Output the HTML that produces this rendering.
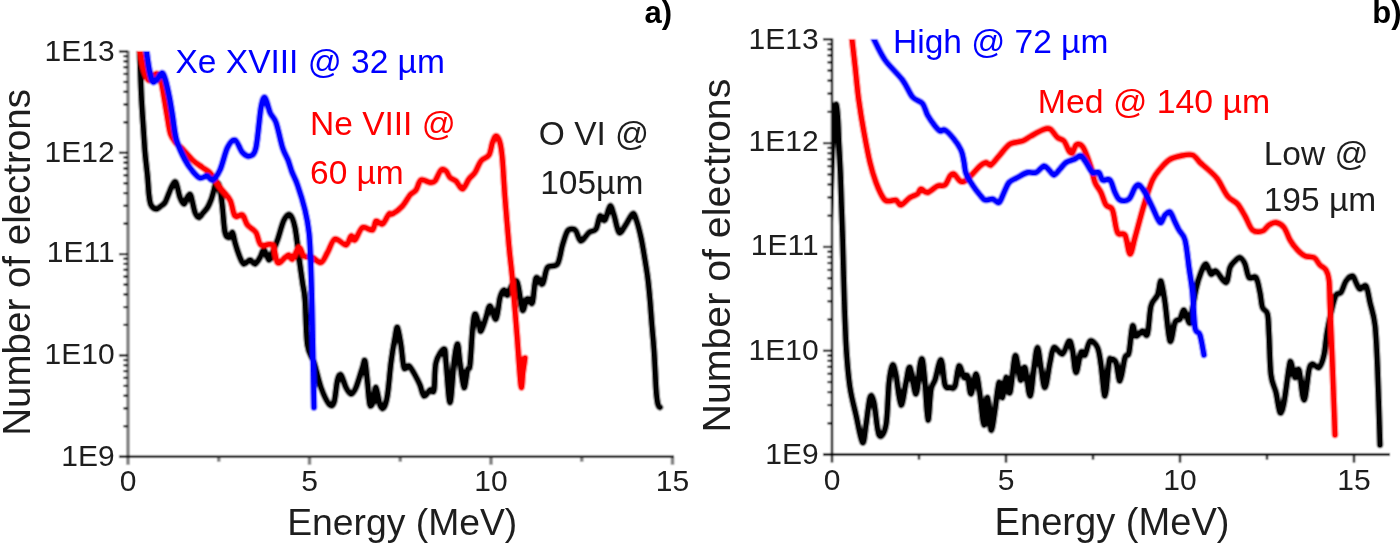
<!DOCTYPE html>
<html><head><meta charset="utf-8"><title>Electron spectra</title>
<style>
html,body{margin:0;padding:0;background:#fff;}
body{width:1400px;height:545px;overflow:hidden;}
svg{display:block;font-family:"Liberation Sans",sans-serif;fill:#1e1e1e;}
</style></head><body>
<svg width="1400" height="545" viewBox="0 0 1400 545">
<defs><filter id="soft" x="0" y="0" width="1400" height="545" filterUnits="userSpaceOnUse"><feConvolveMatrix order="3" kernelMatrix="1 2 1 2 4 2 1 2 1" divisor="16" edgeMode="duplicate" preserveAlpha="true"/></filter><clipPath id="cl"><rect x="129" y="51" width="560" height="404"/></clipPath><clipPath id="cr"><rect x="833" y="39" width="567" height="414"/></clipPath></defs>
<g filter="url(#soft)"><rect width="1400" height="545" fill="#fff"/><g stroke="#858585" stroke-width="3.6" fill="none"><line x1="128" y1="50.7" x2="128" y2="464.7" /><line x1="218.75" y1="456.7" x2="218.75" y2="461.7" /><line x1="309.5" y1="456.7" x2="309.5" y2="464.7" /><line x1="400.25" y1="456.7" x2="400.25" y2="461.7" /><line x1="491" y1="456.7" x2="491" y2="464.7" /><line x1="581.75" y1="456.7" x2="581.75" y2="461.7" /><line x1="672.5" y1="456.7" x2="672.5" y2="464.7" /></g><g stroke="#000" stroke-width="2.2" fill="none"><line x1="119" y1="456.7" x2="674" y2="456.7" stroke-width="2.5"/><line x1="123.5" y1="426.21" x2="128" y2="426.21" /><line x1="123.5" y1="408.37" x2="128" y2="408.37" /><line x1="123.5" y1="395.71" x2="128" y2="395.71" /><line x1="123.5" y1="385.89" x2="128" y2="385.89" /><line x1="123.5" y1="377.87" x2="128" y2="377.87" /><line x1="123.5" y1="371.09" x2="128" y2="371.09" /><line x1="123.5" y1="365.22" x2="128" y2="365.22" /><line x1="123.5" y1="360.04" x2="128" y2="360.04" /><line x1="119" y1="355.4" x2="128" y2="355.4" /><line x1="123.5" y1="324.91" x2="128" y2="324.91" /><line x1="123.5" y1="307.07" x2="128" y2="307.07" /><line x1="123.5" y1="294.41" x2="128" y2="294.41" /><line x1="123.5" y1="284.59" x2="128" y2="284.59" /><line x1="123.5" y1="276.57" x2="128" y2="276.57" /><line x1="123.5" y1="269.79" x2="128" y2="269.79" /><line x1="123.5" y1="263.92" x2="128" y2="263.92" /><line x1="123.5" y1="258.74" x2="128" y2="258.74" /><line x1="119" y1="254.1" x2="128" y2="254.1" /><line x1="123.5" y1="223.61" x2="128" y2="223.61" /><line x1="123.5" y1="205.77" x2="128" y2="205.77" /><line x1="123.5" y1="193.11" x2="128" y2="193.11" /><line x1="123.5" y1="183.29" x2="128" y2="183.29" /><line x1="123.5" y1="175.27" x2="128" y2="175.27" /><line x1="123.5" y1="168.49" x2="128" y2="168.49" /><line x1="123.5" y1="162.62" x2="128" y2="162.62" /><line x1="123.5" y1="157.44" x2="128" y2="157.44" /><line x1="119" y1="152.8" x2="128" y2="152.8" /><line x1="123.5" y1="122.31" x2="128" y2="122.31" /><line x1="123.5" y1="104.47" x2="128" y2="104.47" /><line x1="123.5" y1="91.81" x2="128" y2="91.81" /><line x1="123.5" y1="81.99" x2="128" y2="81.99" /><line x1="123.5" y1="73.97" x2="128" y2="73.97" /><line x1="123.5" y1="67.19" x2="128" y2="67.19" /><line x1="123.5" y1="61.32" x2="128" y2="61.32" /><line x1="123.5" y1="56.14" x2="128" y2="56.14" /><line x1="119" y1="51.5" x2="128" y2="51.5" /></g><g stroke="#111" stroke-width="2.5" fill="none"><line x1="832" y1="38.5" x2="832" y2="462.6" /><line x1="919" y1="454.6" x2="919" y2="459.6" /><line x1="1006" y1="454.6" x2="1006" y2="462.6" /><line x1="1093" y1="454.6" x2="1093" y2="459.6" /><line x1="1180" y1="454.6" x2="1180" y2="462.6" /><line x1="1267" y1="454.6" x2="1267" y2="459.6" /><line x1="1354" y1="454.6" x2="1354" y2="462.6" /></g><g stroke="#000" stroke-width="2.2" fill="none"><line x1="823" y1="454.6" x2="1390" y2="454.6" stroke-width="2.5"/><line x1="827.5" y1="423.35" x2="832" y2="423.35" /><line x1="827.5" y1="405.06" x2="832" y2="405.06" /><line x1="827.5" y1="392.09" x2="832" y2="392.09" /><line x1="827.5" y1="382.03" x2="832" y2="382.03" /><line x1="827.5" y1="373.81" x2="832" y2="373.81" /><line x1="827.5" y1="366.86" x2="832" y2="366.86" /><line x1="827.5" y1="360.84" x2="832" y2="360.84" /><line x1="827.5" y1="355.53" x2="832" y2="355.53" /><line x1="823" y1="350.775" x2="832" y2="350.775" /><line x1="827.5" y1="319.52" x2="832" y2="319.52" /><line x1="827.5" y1="301.24" x2="832" y2="301.24" /><line x1="827.5" y1="288.27" x2="832" y2="288.27" /><line x1="827.5" y1="278.20" x2="832" y2="278.20" /><line x1="827.5" y1="269.98" x2="832" y2="269.98" /><line x1="827.5" y1="263.03" x2="832" y2="263.03" /><line x1="827.5" y1="257.01" x2="832" y2="257.01" /><line x1="827.5" y1="251.70" x2="832" y2="251.70" /><line x1="823" y1="246.95" x2="832" y2="246.95" /><line x1="827.5" y1="215.70" x2="832" y2="215.70" /><line x1="827.5" y1="197.41" x2="832" y2="197.41" /><line x1="827.5" y1="184.44" x2="832" y2="184.44" /><line x1="827.5" y1="174.38" x2="832" y2="174.38" /><line x1="827.5" y1="166.16" x2="832" y2="166.16" /><line x1="827.5" y1="159.21" x2="832" y2="159.21" /><line x1="827.5" y1="153.19" x2="832" y2="153.19" /><line x1="827.5" y1="147.88" x2="832" y2="147.88" /><line x1="823" y1="143.125" x2="832" y2="143.125" /><line x1="827.5" y1="111.87" x2="832" y2="111.87" /><line x1="827.5" y1="93.59" x2="832" y2="93.59" /><line x1="827.5" y1="80.62" x2="832" y2="80.62" /><line x1="827.5" y1="70.55" x2="832" y2="70.55" /><line x1="827.5" y1="62.33" x2="832" y2="62.33" /><line x1="827.5" y1="55.38" x2="832" y2="55.38" /><line x1="827.5" y1="49.36" x2="832" y2="49.36" /><line x1="827.5" y1="44.05" x2="832" y2="44.05" /><line x1="823" y1="39.3" x2="832" y2="39.3" /></g><path d="M139.6,45C139.7,49.2 140.1,60.8 140.4,70C140.7,79.2 141.1,90.8 141.6,100C142.1,109.2 142.6,116.3 143.2,125C143.8,133.7 144.3,143.5 145,152C145.7,160.5 146.8,168.8 147.5,176C148.2,183.2 148.4,190.2 149,195C149.6,199.8 149.8,202.7 151,205C152.2,207.3 154.3,208.8 156,209C157.7,209.2 159.5,207.1 161,206C162.5,204.9 163.7,204.7 165,202.5C166.3,200.3 167.8,195.9 169,193C170.2,190.1 171.3,186.8 172.5,185C173.7,183.2 174.8,180.4 176,182.5C177.2,184.6 178.7,193.9 180,197.5C181.3,201.1 182.8,203.9 184,204C185.2,204.1 186.2,199.5 187,198C187.8,196.5 188.3,195.3 189,195C189.7,194.7 190.0,193.1 191,196C192.0,198.9 193.7,208.9 195,212.5C196.3,216.1 197.7,217.4 199,217.5C200.3,217.6 201.6,214.7 203,213C204.4,211.3 206.2,209.7 207.5,207.5C208.8,205.3 209.9,202.9 211,200C212.1,197.1 213.2,192.9 214,190C214.8,187.1 215.2,183.3 216,182.5C216.8,181.7 218.2,182.9 219,185C219.8,187.1 220.4,191.2 221,195C221.6,198.8 221.8,201.2 222.5,207.5C223.2,213.8 223.9,227.5 225,232.5C226.1,237.5 227.8,237.5 229,237.5C230.2,237.5 231.5,231.7 232.5,232.5C233.5,233.3 233.8,238.3 235,242.5C236.2,246.7 238.5,253.9 240,257.5C241.5,261.1 242.3,263.6 244,264C245.7,264.4 248.2,260.0 250,260C251.8,260.0 253.3,264.4 255,264C256.7,263.6 258.5,259.8 260,257.5C261.5,255.2 262.5,249.6 264,250C265.5,250.4 267.6,259.6 269,260C270.4,260.4 271.1,255.8 272.5,252.5C273.9,249.2 275.6,245.4 277.5,240C279.4,234.6 281.9,224.2 284,220C286.1,215.8 288.2,213.8 290,215C291.8,216.2 293.5,220.4 295,227.5C296.5,234.6 297.8,248.3 299,257.5C300.2,266.7 301.5,275.4 302.5,282.5C303.5,289.6 304.2,289.6 305,300C305.8,310.4 306.0,334.6 307.5,345C309.0,355.4 311.8,355.4 314,362.5C316.2,369.6 318.5,380.6 321,387.5C323.5,394.4 326.8,401.5 329,404C331.2,406.5 332.6,406.5 334,402.5C335.4,398.5 336.3,384.6 337.5,380C338.7,375.4 339.6,373.8 341,375C342.4,376.2 344.3,384.3 346,387.5C347.7,390.7 349.3,394.0 351,394C352.7,394.0 354.1,391.9 356,387.5C357.9,383.1 361.0,371.9 362.5,367.5C364.0,363.1 364.2,358.5 365,361C365.8,363.5 366.7,375.2 367.5,382.5C368.3,389.8 368.9,402.1 370,405C371.1,407.9 373.0,402.9 374,400C375.0,397.1 375.0,386.7 376,387.5C377.0,388.3 378.7,401.7 380,405C381.3,408.3 382.8,409.2 384,407.5C385.2,405.8 386.3,402.5 387.5,395C388.7,387.5 389.8,372.1 391,362.5C392.2,352.9 393.9,343.3 395,337.5C396.1,331.7 396.5,326.2 397.5,327.5C398.5,328.8 399.9,338.3 401,345C402.1,351.7 402.7,364.0 404,367.5C405.3,371.0 407.2,364.8 409,366C410.8,367.2 413.2,371.8 415,375C416.8,378.2 418.5,381.5 420,385C421.5,388.5 422.3,395.2 424,396C425.7,396.8 428.3,391.0 430,390C431.7,389.0 433.0,394.6 434,390C435.0,385.4 434.3,369.3 436,362.5C437.7,355.7 442.3,349.0 444,349C445.7,349.0 445.0,353.6 446,362.5C447.0,371.4 448.7,402.5 450,402.5C451.3,402.5 452.8,372.2 454,362.5C455.2,352.8 456.5,344.0 457.5,344C458.5,344.0 458.9,355.2 460,362.5C461.1,369.8 462.8,386.2 464,387.5C465.2,388.8 466.5,373.8 467.5,370C468.5,366.2 469.2,371.7 470,365C470.8,358.3 471.7,338.5 472.5,330C473.3,321.5 473.9,314.8 475,314C476.1,313.2 478.0,322.2 479,325C480.0,327.8 479.8,332.2 481,331C482.2,329.8 484.5,321.7 486,317.5C487.5,313.3 488.3,305.8 490,306C491.7,306.2 494.3,320.4 496,319C497.7,317.6 498.7,302.3 500,297.5C501.3,292.7 502.8,290.4 504,290C505.2,289.6 506.1,296.0 507.5,295C508.9,294.0 510.8,286.0 512.5,284C514.2,282.0 515.8,278.7 517.5,283C519.2,287.3 521.1,307.2 522.5,310C523.9,312.8 524.9,301.8 526,300C527.1,298.2 527.9,298.6 529,299C530.1,299.4 531.3,306.0 532.5,302.5C533.7,299.0 534.3,281.1 536,278C537.7,274.9 540.6,285.8 542.5,284C544.4,282.2 545.0,270.8 547.5,267.5C550.0,264.2 555.0,267.8 557.5,264C560.0,260.2 560.8,250.5 562.5,245C564.2,239.5 565.8,233.7 567.5,231C569.2,228.3 571.1,229.0 572.5,229C573.9,229.0 574.6,229.0 576,231C577.4,233.0 578.8,240.8 581,241C583.2,241.2 586.5,234.5 589,232.5C591.5,230.5 594.2,231.8 596,229C597.8,226.2 598.5,217.5 600,216C601.5,214.5 603.3,221.7 605,220C606.7,218.3 608.5,206.8 610,206C611.5,205.2 612.5,210.6 614,215C615.5,219.4 617.2,230.7 619,232.5C620.8,234.3 622.8,229.1 625,226C627.2,222.9 630.7,215.2 632.5,214C634.3,212.8 634.6,215.1 636,219C637.4,222.9 639.5,230.7 641,237.5C642.5,244.3 643.8,252.9 645,260C646.2,267.1 647.2,273.3 648,280C648.8,286.7 649.3,292.3 650,300C650.7,307.7 651.3,317.7 652,326C652.7,334.3 653.3,339.7 654,350C654.7,360.3 655.5,379.5 656,388C656.5,396.5 656.9,398.0 657.3,401C657.7,404.0 658.1,404.9 658.6,406C659.1,407.1 659.8,407.1 660,407.3" fill="none" stroke="#000" stroke-width="6.5" stroke-linejoin="round" stroke-linecap="round" clip-path="url(#cl)"/><path d="M139,45C139.4,47.5 140.6,55.5 141.5,60C142.4,64.5 143.4,68.8 144.5,72C145.6,75.2 146.8,78.2 148,79.5C149.2,80.8 150.3,80.3 151.5,79.5C152.7,78.7 153.8,75.2 155,74.5C156.2,73.8 157.4,73.6 158.5,75C159.6,76.4 160.5,78.8 161.5,83C162.5,87.2 163.5,94.2 164.5,100C165.5,105.8 166.5,112.3 167.5,118C168.5,123.7 169.1,129.8 170.5,134C171.9,138.2 174.0,140.5 176,143C178.0,145.5 179.8,146.2 182.5,149C185.2,151.8 189.2,156.9 192.5,160C195.8,163.1 199.6,165.3 202.5,167.5C205.4,169.7 207.1,169.7 210,173C212.9,176.3 216.7,183.0 220,187.5C223.3,192.0 227.5,195.2 230,200C232.5,204.8 232.9,213.5 235,216C237.1,218.5 240.4,213.5 242.5,215C244.6,216.5 245.2,222.1 247.5,225C249.8,227.9 253.8,229.2 256,232.5C258.2,235.8 258.2,242.9 261,245C263.8,247.1 269.8,242.1 272.5,245C275.2,247.9 275.4,260.4 277.5,262.5C279.6,264.6 283.1,258.8 285,257.5C286.9,256.2 287.8,254.8 289,255C290.2,255.2 290.8,260.2 292.5,259C294.2,257.8 297.1,248.0 299,247.5C300.9,247.0 301.8,254.3 304,256C306.2,257.7 309.7,256.4 312.5,257.5C315.3,258.6 318.5,263.3 321,262.5C323.5,261.7 325.2,256.4 327.5,252.5C329.8,248.6 331.9,240.2 335,239C338.1,237.8 343.3,245.5 346,245C348.7,244.5 349.5,236.8 351,236C352.5,235.2 353.1,241.4 355,240C356.9,238.6 359.6,229.2 362.5,227.5C365.4,225.8 370.2,231.1 372.5,230C374.8,228.9 374.3,222.0 376,221C377.7,220.0 380.3,225.2 382.5,224C384.7,222.8 387.3,215.7 389,214C390.7,212.3 390.2,215.3 392.5,214C394.8,212.7 399.6,209.2 402.5,206C405.4,202.8 407.8,197.7 410,195C412.2,192.3 414.2,192.5 416,190C417.8,187.5 418.7,181.2 421,180C423.3,178.8 427.7,182.3 430,182.5C432.3,182.7 433.2,183.1 435,181C436.8,178.9 439.2,171.7 441,170C442.8,168.3 444.5,169.8 446,171C447.5,172.2 448.3,175.8 450,177.5C451.7,179.2 453.9,179.1 456,181C458.1,182.9 460.3,189.3 462.5,189C464.7,188.7 466.9,181.8 469,179C471.1,176.2 473.0,175.5 475,172.5C477.0,169.5 478.7,163.9 481,161C483.3,158.1 487.1,158.1 489,155C490.9,151.9 491.3,145.7 492.5,142.5C493.7,139.3 494.8,136.0 496,136C497.2,136.0 498.9,138.5 500,142.5C501.1,146.5 501.7,150.8 502.5,160C503.3,169.2 503.9,183.2 505,197.5C506.1,211.8 507.8,232.2 509,246C510.2,259.8 511.2,265.2 512.5,280C513.8,294.8 515.6,317.3 517,335C518.4,352.7 520.0,379.8 521,386C522.0,392.2 522.3,376.7 523,372C523.7,367.3 524.7,360.3 525,358" fill="none" stroke="#ff0000" stroke-width="6.5" stroke-linejoin="round" stroke-linecap="round" clip-path="url(#cl)"/><path d="M145.8,45C146.1,47.2 146.9,53.8 147.5,58C148.1,62.2 148.6,66.1 149.4,70C150.2,73.9 151.3,79.9 152.6,81.5C153.9,83.1 155.4,80.9 157,79.5C158.6,78.1 160.6,72.9 162,73C163.4,73.1 164.3,76.1 165.5,80C166.7,83.9 168.1,90.6 169.3,96.4C170.5,102.2 171.3,107.7 172.5,115C173.7,122.3 174.4,132.5 176.5,140C178.6,147.5 182.3,154.8 185,160C187.7,165.2 190.0,168.0 192.5,171C195.0,174.0 197.6,177.2 200,178C202.4,178.8 204.9,175.7 207,176C209.1,176.3 210.3,181.0 212.5,180C214.7,179.0 217.5,175.4 220,170C222.5,164.6 225.0,152.5 227.5,147.5C230.0,142.5 232.5,139.2 235,140C237.5,140.8 240.0,149.8 242.5,152.5C245.0,155.2 247.8,156.8 250,156C252.2,155.2 254.2,155.6 256,147.5C257.8,139.4 259.5,115.8 261,107.5C262.5,99.2 263.5,96.7 265,97.5C266.5,98.3 268.2,108.3 270,112.5C271.8,116.7 273.9,116.7 276,122.5C278.1,128.3 280.5,141.2 282.5,147.5C284.5,153.8 286.4,155.9 288,160C289.6,164.1 290.4,167.8 292,172C293.6,176.2 295.3,178.7 297.5,185C299.7,191.3 303.1,202.1 305,210C306.9,217.9 308.1,224.6 309,232.5C309.9,240.4 310.0,245.2 310.5,257.5C311.0,269.8 311.4,281.0 312,306C312.6,331.0 313.7,390.6 314,407.5" fill="none" stroke="#0000ff" stroke-width="6.5" stroke-linejoin="round" stroke-linecap="round" clip-path="url(#cl)"/><path d="M829.5,230C829.7,225.0 830.1,210.8 830.5,200C830.9,189.2 831.1,177.5 831.6,165C832.1,152.5 832.5,135.1 833.2,125C833.9,114.9 835.0,105.7 835.8,104.5C836.6,103.3 837.3,111.2 837.8,118C838.3,124.8 838.5,135.5 839,145C839.5,154.5 840.1,165.0 840.5,175C840.9,185.0 841.1,194.2 841.5,205C841.9,215.8 842.2,224.2 842.7,240C843.2,255.8 843.7,281.3 844.3,300C844.9,318.7 845.5,337.4 846.5,352C847.5,366.6 848.4,377.0 850,387.5C851.6,398.0 853.9,405.8 856,415C858.1,424.2 860.8,440.8 862.5,442.5C864.2,444.2 864.8,432.5 866,425C867.2,417.5 868.7,401.2 870,397.5C871.3,393.8 872.5,396.2 874,402.5C875.5,408.8 877.0,431.2 879,435C881.0,438.8 884.3,433.8 886,425C887.7,416.2 887.9,392.5 889,382.5C890.1,372.5 891.3,366.2 892.5,365C893.7,363.8 894.6,368.3 896,375C897.4,381.7 899.3,403.8 901,405C902.7,406.2 904.5,388.8 906,382.5C907.5,376.2 908.3,365.6 910,367.5C911.7,369.4 914.3,394.4 916,394C917.7,393.6 918.9,370.7 920,365C921.1,359.3 921.7,357.1 922.5,360C923.3,362.9 924.1,372.5 925,382.5C925.9,392.5 927.0,418.8 928,420C929.0,421.2 929.8,396.7 931,390C932.2,383.3 933.3,385.0 935,380C936.7,375.0 939.3,359.2 941,360C942.7,360.8 943.5,380.4 945,385C946.5,389.6 948.3,387.3 950,387.5C951.7,387.7 953.5,389.6 955,386C956.5,382.4 957.5,367.4 959,366C960.5,364.6 962.6,375.8 964,377.5C965.4,379.2 966.3,373.2 967.5,376C968.7,378.8 969.6,394.3 971,394C972.4,393.7 974.5,373.8 976,374C977.5,374.2 978.7,386.5 980,395C981.3,403.5 982.8,424.6 984,425C985.2,425.4 986.3,396.7 987.5,397.5C988.7,398.3 989.8,427.9 991,430C992.2,432.1 993.7,417.9 995,410C996.3,402.1 997.8,384.6 999,382.5C1000.2,380.4 1001.3,398.3 1002.5,397.5C1003.7,396.7 1004.8,378.3 1006,377.5C1007.2,376.7 1008.5,396.1 1010,392.5C1011.5,388.9 1013.5,359.3 1015,356C1016.5,352.7 1018.0,368.5 1019,372.5C1020.0,376.5 1020.0,380.8 1021,380C1022.0,379.2 1023.5,364.8 1025,367.5C1026.5,370.2 1028.5,396.0 1030,396C1031.5,396.0 1032.8,375.6 1034,367.5C1035.2,359.4 1036.3,347.5 1037.5,347.5C1038.7,347.5 1039.8,360.8 1041,367.5C1042.2,374.2 1043.5,388.3 1045,387.5C1046.5,386.7 1048.5,369.2 1050,362.5C1051.5,355.8 1051.9,348.9 1054,347.5C1056.1,346.1 1060.0,355.1 1062.5,354C1065.0,352.9 1067.3,341.7 1069,341C1070.7,340.3 1071.3,344.8 1072.5,350C1073.7,355.2 1074.6,372.1 1076,372.5C1077.4,372.9 1079.5,355.4 1081,352.5C1082.5,349.6 1083.5,356.9 1085,355C1086.5,353.1 1087.9,342.2 1090,341C1092.1,339.8 1095.7,343.5 1097.5,347.5C1099.3,351.5 1099.8,356.9 1101,365C1102.2,373.1 1103.7,396.4 1105,396C1106.3,395.6 1108.0,368.7 1109,362.5C1110.0,356.3 1109.8,359.0 1111,359C1112.2,359.0 1114.5,358.8 1116,362.5C1117.5,366.2 1118.5,381.8 1120,381C1121.5,380.2 1123.5,362.2 1125,357.5C1126.5,352.8 1127.8,357.8 1129,352.5C1130.2,347.2 1131.3,328.8 1132.5,326C1133.7,323.2 1134.3,335.2 1136,336C1137.7,336.8 1140.6,331.3 1142.5,331C1144.4,330.7 1146.1,338.2 1147.5,334C1148.9,329.8 1149.3,312.5 1151,306C1152.7,299.5 1155.8,299.2 1157.5,295C1159.2,290.8 1159.8,279.8 1161,281C1162.2,282.2 1163.5,292.5 1165,302.5C1166.5,312.5 1168.3,337.7 1170,341C1171.7,344.3 1173.3,326.2 1175,322.5C1176.7,318.8 1178.5,321.1 1180,319C1181.5,316.9 1182.5,309.4 1184,310C1185.5,310.6 1187.8,321.2 1189,322.5C1190.2,323.8 1189.8,323.1 1191,317.5C1192.2,311.9 1194.3,296.5 1196,289C1197.7,281.5 1199.3,276.7 1201,272.5C1202.7,268.3 1204.3,263.8 1206,264C1207.7,264.2 1209.3,272.8 1211,274C1212.7,275.2 1213.5,269.6 1216,271C1218.5,272.4 1223.7,283.1 1226,282.5C1228.3,281.9 1228.5,271.1 1230,267.5C1231.5,263.9 1233.3,262.7 1235,261C1236.7,259.3 1238.3,257.0 1240,257.5C1241.7,258.0 1243.5,260.7 1245,264C1246.5,267.3 1247.2,275.2 1249,277.5C1250.8,279.8 1254.2,275.0 1256,277.5C1257.8,280.0 1258.9,287.5 1260,292.5C1261.1,297.5 1261.2,303.9 1262.5,307.5C1263.8,311.1 1266.4,309.4 1267.5,314C1268.6,318.6 1268.4,324.8 1269,335C1269.6,345.2 1269.8,365.4 1271,375C1272.2,384.6 1274.5,386.2 1276,392.5C1277.5,398.8 1278.7,410.8 1280,412.5C1281.3,414.2 1282.5,410.0 1284,402.5C1285.5,395.0 1287.8,374.2 1289,367.5C1290.2,360.8 1290.0,360.8 1291,362.5C1292.0,364.2 1293.7,376.2 1295,377.5C1296.3,378.8 1297.5,366.2 1299,370C1300.5,373.8 1302.3,400.0 1304,400C1305.7,400.0 1307.6,376.0 1309,370C1310.4,364.0 1310.8,364.4 1312.5,364C1314.2,363.6 1317.1,369.0 1319,367.5C1320.9,366.0 1322.6,361.2 1324,355C1325.4,348.8 1325.7,339.6 1327.5,330C1329.3,320.4 1332.8,303.8 1335,297.5C1337.2,291.2 1339.2,295.2 1341,292.5C1342.8,289.8 1344.1,283.8 1346,281C1347.9,278.2 1350.8,275.8 1352.5,276C1354.2,276.2 1354.8,280.3 1356,282.5C1357.2,284.7 1358.3,288.4 1360,289C1361.7,289.6 1364.3,283.8 1366,286C1367.7,288.2 1368.5,296.0 1370,302.5C1371.5,309.0 1373.8,314.2 1375,325C1376.2,335.8 1376.7,347.5 1377.5,367.5C1378.3,387.5 1379.6,432.1 1380,445" fill="none" stroke="#000" stroke-width="6.5" stroke-linejoin="round" stroke-linecap="round" clip-path="url(#cr)"/><path d="M852,39C852.6,44.2 854.4,59.8 855.5,70C856.6,80.2 857.3,89.6 858.75,100C860.2,110.4 862.1,122.1 864,132.5C865.9,142.9 868.0,154.2 870,162.5C872.0,170.8 873.7,176.4 876,182.5C878.3,188.6 881.7,195.9 884,199C886.3,202.1 888.0,200.8 890,201C892.0,201.2 894.2,199.3 896,200C897.8,200.7 898.7,205.4 901,205C903.3,204.6 907.2,199.3 910,197.5C912.8,195.7 915.7,195.4 917.5,194C919.3,192.6 919.3,189.2 921,189C922.7,188.8 924.8,193.0 927.5,192.5C930.2,192.0 934.6,187.2 937.5,186C940.4,184.8 942.9,186.7 945,185C947.1,183.3 948.5,177.8 950,176C951.5,174.2 952.3,173.2 954,174C955.7,174.8 958.2,179.8 960,181C961.8,182.2 962.9,182.2 965,181C967.1,179.8 970.0,176.5 972.5,174C975.0,171.5 977.8,167.9 980,166C982.2,164.1 984.2,162.7 986,162.5C987.8,162.3 988.8,166.1 991,165C993.2,163.9 995.8,159.5 999,156C1002.2,152.5 1006.1,146.5 1010,144C1013.9,141.5 1019.0,142.3 1022.5,141C1026.0,139.7 1027.7,137.8 1031,136C1034.3,134.2 1039.3,131.2 1042.5,130C1045.7,128.8 1047.5,127.8 1050,129C1052.5,130.2 1055.2,135.5 1057.5,137.5C1059.8,139.5 1062.1,138.8 1064,141C1065.9,143.2 1067.6,149.1 1069,151C1070.4,152.9 1071.3,153.5 1072.5,152.5C1073.7,151.5 1074.6,146.2 1076,145C1077.4,143.8 1079.5,144.0 1081,145C1082.5,146.0 1083.3,147.2 1085,151C1086.7,154.8 1089.3,162.2 1091,167.5C1092.7,172.8 1093.3,178.3 1095,182.5C1096.7,186.7 1099.2,188.8 1101,192.5C1102.8,196.2 1104.1,202.1 1106,205C1107.9,207.9 1110.6,205.4 1112.5,210C1114.4,214.6 1115.4,228.3 1117.5,232.5C1119.6,236.7 1122.9,231.4 1125,235C1127.1,238.6 1128.3,253.6 1130,254C1131.7,254.4 1132.7,245.7 1135,237.5C1137.3,229.3 1141.1,214.6 1144,205C1146.9,195.4 1149.8,186.0 1152.5,180C1155.2,174.0 1157.2,172.3 1160,169C1162.8,165.7 1165.7,162.2 1169,160C1172.3,157.8 1176.1,156.8 1180,156C1183.9,155.2 1189.2,153.9 1192.5,155C1195.8,156.1 1197.5,160.2 1200,162.5C1202.5,164.8 1204.6,166.2 1207.5,169C1210.4,171.8 1214.2,174.5 1217.5,179C1220.8,183.5 1224.2,191.8 1227.5,196C1230.8,200.2 1234.6,200.7 1237.5,204C1240.4,207.3 1242.5,211.7 1245,216C1247.5,220.3 1249.6,227.5 1252.5,230C1255.4,232.5 1259.8,231.8 1262.5,231C1265.2,230.2 1266.8,226.4 1269,225C1271.2,223.6 1273.5,222.1 1276,222.5C1278.5,222.9 1281.7,224.6 1284,227.5C1286.3,230.4 1287.8,236.2 1290,240C1292.2,243.8 1295.0,247.3 1297.5,250C1300.0,252.7 1302.2,254.8 1305,256C1307.8,257.2 1311.5,256.0 1314,257.5C1316.5,259.0 1318.0,262.9 1320,265C1322.0,267.1 1324.5,267.5 1326,270C1327.5,272.5 1328.3,274.2 1329,280C1329.7,285.8 1329.4,290.7 1330,305C1330.6,319.3 1331.7,344.3 1332.5,366C1333.3,387.7 1334.6,423.5 1335,435" fill="none" stroke="#ff0000" stroke-width="6.5" stroke-linejoin="round" stroke-linecap="round" clip-path="url(#cr)"/><path d="M874,39.5C875.8,42.9 880.2,53.2 885,60C889.8,66.8 897.9,73.8 902.5,80C907.1,86.2 909.2,93.1 912.5,97C915.8,100.9 920.0,100.5 922.5,103.5C925.0,106.5 925.4,111.2 927.5,115C929.6,118.8 932.9,123.3 935,126C937.1,128.7 938.3,130.3 940,131C941.7,131.7 942.8,128.8 945,130C947.2,131.2 950.8,135.2 953.5,138.5C956.2,141.8 959.2,146.1 961,150C962.8,153.9 963.2,158.1 964,162C964.8,165.9 964.6,169.7 966,173.5C967.4,177.3 970.2,181.4 972.5,185C974.8,188.6 977.9,192.5 980,195C982.1,197.5 982.9,199.3 985,200C987.1,200.7 990.2,198.6 992.5,199C994.8,199.4 997.1,203.6 999,202.5C1000.9,201.4 1002.3,195.8 1004,192.5C1005.7,189.2 1006.8,185.0 1009,182.5C1011.2,180.0 1014.4,179.2 1017.5,177.5C1020.6,175.8 1024.4,173.3 1027.5,172.5C1030.6,171.7 1033.2,173.6 1036,172.5C1038.8,171.4 1041.8,166.4 1044,166C1046.2,165.6 1047.3,168.5 1049,170C1050.7,171.5 1052.2,175.2 1054,175C1055.8,174.8 1058.0,171.1 1060,169C1062.0,166.9 1063.5,164.2 1066,162.5C1068.5,160.8 1072.5,160.1 1075,159C1077.5,157.9 1078.9,155.0 1081,156C1083.1,157.0 1085.6,162.2 1087.5,165C1089.4,167.8 1090.6,171.2 1092.5,172.5C1094.4,173.8 1097.3,171.2 1099,172.5C1100.7,173.8 1100.7,178.8 1102.5,180C1104.3,181.2 1107.9,177.9 1110,180C1112.1,182.1 1113.3,189.2 1115,192.5C1116.7,195.8 1117.7,198.9 1120,200C1122.3,201.1 1126.5,201.1 1129,199C1131.5,196.9 1133.3,189.8 1135,187.5C1136.7,185.2 1137.3,184.2 1139,185C1140.7,185.8 1142.8,188.8 1145,192.5C1147.2,196.2 1150.0,202.5 1152.5,207.5C1155.0,212.5 1157.9,221.2 1160,222.5C1162.1,223.8 1163.3,216.8 1165,215C1166.7,213.2 1168.3,210.8 1170,212C1171.7,213.2 1173.5,219.0 1175,222C1176.5,225.0 1177.3,227.0 1179,230C1180.7,233.0 1183.3,233.8 1185,240C1186.7,246.2 1187.8,258.8 1189,267.5C1190.2,276.2 1191.5,282.5 1192.5,292.5C1193.5,302.5 1193.8,320.4 1195,327.5C1196.2,334.6 1198.5,330.4 1200,335C1201.5,339.6 1203.3,351.7 1204,355" fill="none" stroke="#0000ff" stroke-width="6.5" stroke-linejoin="round" stroke-linecap="round" clip-path="url(#cr)"/></g>
<g><text x="114.7" y="465.7" text-anchor="end" font-size="30">1E9</text><text x="114.7" y="364.1" text-anchor="end" font-size="30">1E10</text><text x="114.7" y="262.1" text-anchor="end" font-size="30">1E11</text><text x="114.7" y="162.3" text-anchor="end" font-size="30">1E12</text><text x="114.7" y="61" text-anchor="end" font-size="30">1E13</text><text x="128" y="491.4" text-anchor="middle" font-size="30">0</text><text x="309.5" y="491.4" text-anchor="middle" font-size="30">5</text><text x="491" y="491.4" text-anchor="middle" font-size="30">10</text><text x="672.5" y="491.4" text-anchor="middle" font-size="30">15</text><text x="287.2" y="535.3" font-size="37.3">Energy (MeV)</text><text transform="translate(29.9,435.7) rotate(-90)" font-size="38.5">Number of electrons</text><text x="818.7" y="463.6" text-anchor="end" font-size="30">1E9</text><text x="818.7" y="359.775" text-anchor="end" font-size="30">1E10</text><text x="818.7" y="255.45" text-anchor="end" font-size="30">1E11</text><text x="818.7" y="151.325" text-anchor="end" font-size="30">1E12</text><text x="818.7" y="48.8" text-anchor="end" font-size="30">1E13</text><text x="832" y="489.6" text-anchor="middle" font-size="30">0</text><text x="1006" y="489.6" text-anchor="middle" font-size="30">5</text><text x="1180" y="489.6" text-anchor="middle" font-size="30">10</text><text x="1354" y="489.6" text-anchor="middle" font-size="30">15</text><text x="994.6" y="534.6" font-size="38.1">Energy (MeV)</text><text transform="translate(729.6,432.5) rotate(-90)" font-size="39.3">Number of electrons</text><text x="175.5" y="72.5" font-size="33.5" fill="#0000ff">Xe XVIII @ 32 µm</text><text x="310" y="135" font-size="33.5" fill="#ff0000">Ne VIII @</text><text x="310" y="184.4" font-size="33.5" fill="#ff0000">60 µm</text><text x="538.8" y="145" font-size="33.5">O VI @</text><text x="540.2" y="193.6" font-size="33.5">105µm</text><text x="893" y="53.4" font-size="33.5" fill="#0000ff">High @ 72 µm</text><text x="1037.8" y="113.2" font-size="33.8" fill="#ff0000">Med @ 140 µm</text><text x="1263.7" y="164.8" font-size="33.5">Low @</text><text x="1263.7" y="210.7" font-size="33.5">195 µm</text><text x="644.5" y="22.8" font-size="31" font-weight="bold" fill="#000">a)</text><text x="1372.3" y="22.8" font-size="31" font-weight="bold" fill="#000">b)</text></g>
</svg>
</body></html>
